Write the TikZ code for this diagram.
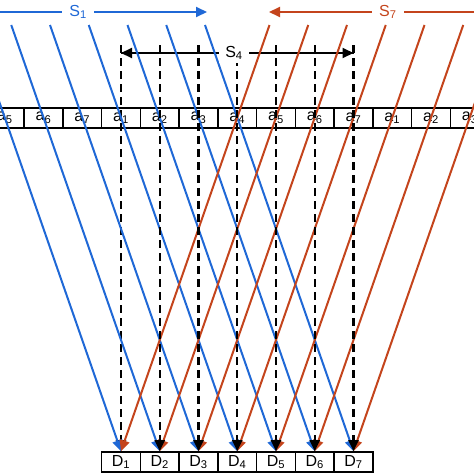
\documentclass[tikz,border=0pt]{standalone}
\usepackage{fontspec}
\setmainfont{Liberation Sans}
\usepackage{xcolor}
\usepackage{tikz}
\usetikzlibrary{arrows.meta}
\definecolor{sblue}{RGB}{31,104,214}
\definecolor{sred}{RGB}{196,68,28}

\begin{document}
\begin{tikzpicture}[x=1pt, y=-1pt, every node/.style={align=center, font=\fontsize{16}{18}\selectfont},
cell/.style={draw, line width=1.6pt, fill=white, minimum width=38.75pt, minimum height=20pt, inner sep=0pt},
ray/.style={line width=2pt, -{Triangle[length=11pt,width=10pt]}},
guide/.style={line width=2.2pt, dash pattern=on 8pt off 5pt, -{Triangle[length=11pt,width=10pt]}},
shiftarrow/.style={line width=2pt, -{Triangle[length=11pt,width=10pt]}}]

\useasboundingbox (0,0) rectangle (474,474);
\clip (0,0) rectangle (474,474);

% row of shifted cells
\foreach \k [evaluate=\k as \n using {int(mod(\k+3,7)+1)}] in {1,...,13}
  \node[cell] (a\k) at ({121+(\k-4)*38.75},118) {a\textsubscript{\n}};
\foreach \i in {1,...,7}
  \node[cell] (d\i) at ({121+(\i-1)*38.75},462) {D\textsubscript{\i}};

\foreach \i in {1,...,7} {
  \coordinate (t\i) at ({121+(\i-1)*38.75},45);
  \coordinate (b\i) at ({121+(\i-1)*38.75-148.5},25);
  \coordinate (r\i) at ({121+(\i-1)*38.75+148.5},25);
}

% shift arrows
\coordinate (s1l) at (0,12);
\coordinate (s1r) at (207,12);
\coordinate (s7r) at (474,12);
\coordinate (s7l) at (269,12);
\coordinate (s4l) at (121,53);
\coordinate (s4r) at (353.5,53);
\draw[shiftarrow, sblue] (s1l) -- node[pos=0.377, fill=white, inner xsep=7pt, text=sblue] (s1) {S\textsubscript{1}} (s1r);
\draw[shiftarrow, sred] (s7r) -- node[pos=0.42, fill=white, inner xsep=7pt, text=sred] (s7) {S\textsubscript{7}} (s7l);
\draw[shiftarrow] (s4l) -- (s4r);
\draw[shiftarrow] (s4r) -- (s4l);

\draw[guide] (t1) -- (d1.north);
\foreach \i in {1,...,7}
  \draw[ray, sblue] (b\i) -- (d\i.north);
\foreach \i in {1,...,7}
  \draw[ray, sred] (r\i) -- (d\i.north);
\foreach \i in {2,...,7}
  \draw[guide] (t\i) -- (d\i.north);

\node[fill=white, inner xsep=6pt] (s4) at (234,53) {S\textsubscript{4}};
\end{tikzpicture}
\end{document}
